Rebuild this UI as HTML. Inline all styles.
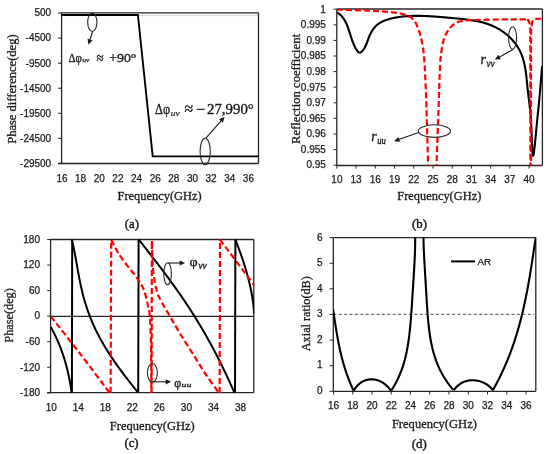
<!DOCTYPE html>
<html><head><meta charset="utf-8"><title>Figure</title>
<style>
html,body{margin:0;padding:0;background:#fff;}
body{width:550px;height:454px;overflow:hidden;}
svg{display:block;}
</style></head>
<body>
<svg width="550" height="454" viewBox="0 0 550 454">
<rect width="550" height="454" fill="#fff"/>
<line x1="61.60" y1="15.60" x2="258.50" y2="15.60" stroke="#c8c8c8" stroke-width="0.8" />
<line x1="61.60" y1="12.80" x2="258.50" y2="12.80" stroke="#262626" stroke-width="1.3" />
<line x1="258.50" y1="12.80" x2="258.50" y2="163.50" stroke="#262626" stroke-width="1.3" />
<line x1="61.60" y1="12.80" x2="61.60" y2="163.50" stroke="#262626" stroke-width="1.3" />
<line x1="58.20" y1="163.50" x2="258.50" y2="163.50" stroke="#262626" stroke-width="1.3" />
<line x1="58.20" y1="13.00" x2="61.60" y2="13.00" stroke="#262626" stroke-width="1.1" />
<text x="51.20" y="16.20" font-size="10" text-anchor="end" font-family="'Liberation Sans', Arial, sans-serif" fill="#1a1a1a" stroke="#1a1a1a" stroke-width="0.25">500</text>
<line x1="58.20" y1="38.08" x2="61.60" y2="38.08" stroke="#262626" stroke-width="1.1" />
<text x="51.20" y="41.35" font-size="10" text-anchor="end" font-family="'Liberation Sans', Arial, sans-serif" fill="#1a1a1a" stroke="#1a1a1a" stroke-width="0.25">-4500</text>
<line x1="58.20" y1="63.16" x2="61.60" y2="63.16" stroke="#262626" stroke-width="1.1" />
<text x="51.20" y="66.50" font-size="10" text-anchor="end" font-family="'Liberation Sans', Arial, sans-serif" fill="#1a1a1a" stroke="#1a1a1a" stroke-width="0.25">-9500</text>
<line x1="58.20" y1="88.24" x2="61.60" y2="88.24" stroke="#262626" stroke-width="1.1" />
<text x="51.20" y="91.65" font-size="10" text-anchor="end" font-family="'Liberation Sans', Arial, sans-serif" fill="#1a1a1a" stroke="#1a1a1a" stroke-width="0.25">-14500</text>
<line x1="58.20" y1="113.32" x2="61.60" y2="113.32" stroke="#262626" stroke-width="1.1" />
<text x="51.20" y="116.80" font-size="10" text-anchor="end" font-family="'Liberation Sans', Arial, sans-serif" fill="#1a1a1a" stroke="#1a1a1a" stroke-width="0.25">-19500</text>
<line x1="58.20" y1="138.40" x2="61.60" y2="138.40" stroke="#262626" stroke-width="1.1" />
<text x="51.20" y="141.95" font-size="10" text-anchor="end" font-family="'Liberation Sans', Arial, sans-serif" fill="#1a1a1a" stroke="#1a1a1a" stroke-width="0.25">-24500</text>
<line x1="58.20" y1="163.48" x2="61.60" y2="163.48" stroke="#262626" stroke-width="1.1" />
<text x="51.20" y="167.10" font-size="10" text-anchor="end" font-family="'Liberation Sans', Arial, sans-serif" fill="#1a1a1a" stroke="#1a1a1a" stroke-width="0.25">-29500</text>
<text x="62.00" y="181.90" font-size="10" text-anchor="middle" font-family="'Liberation Sans', Arial, sans-serif" fill="#1a1a1a" stroke="#1a1a1a" stroke-width="0.25">16</text>
<text x="80.64" y="181.90" font-size="10" text-anchor="middle" font-family="'Liberation Sans', Arial, sans-serif" fill="#1a1a1a" stroke="#1a1a1a" stroke-width="0.25">18</text>
<text x="99.28" y="181.90" font-size="10" text-anchor="middle" font-family="'Liberation Sans', Arial, sans-serif" fill="#1a1a1a" stroke="#1a1a1a" stroke-width="0.25">20</text>
<text x="117.92" y="181.90" font-size="10" text-anchor="middle" font-family="'Liberation Sans', Arial, sans-serif" fill="#1a1a1a" stroke="#1a1a1a" stroke-width="0.25">22</text>
<text x="136.56" y="181.90" font-size="10" text-anchor="middle" font-family="'Liberation Sans', Arial, sans-serif" fill="#1a1a1a" stroke="#1a1a1a" stroke-width="0.25">24</text>
<text x="155.20" y="181.90" font-size="10" text-anchor="middle" font-family="'Liberation Sans', Arial, sans-serif" fill="#1a1a1a" stroke="#1a1a1a" stroke-width="0.25">26</text>
<text x="173.84" y="181.90" font-size="10" text-anchor="middle" font-family="'Liberation Sans', Arial, sans-serif" fill="#1a1a1a" stroke="#1a1a1a" stroke-width="0.25">28</text>
<text x="192.48" y="181.90" font-size="10" text-anchor="middle" font-family="'Liberation Sans', Arial, sans-serif" fill="#1a1a1a" stroke="#1a1a1a" stroke-width="0.25">30</text>
<text x="211.12" y="181.90" font-size="10" text-anchor="middle" font-family="'Liberation Sans', Arial, sans-serif" fill="#1a1a1a" stroke="#1a1a1a" stroke-width="0.25">32</text>
<text x="229.76" y="181.90" font-size="10" text-anchor="middle" font-family="'Liberation Sans', Arial, sans-serif" fill="#1a1a1a" stroke="#1a1a1a" stroke-width="0.25">34</text>
<text x="248.40" y="181.90" font-size="10" text-anchor="middle" font-family="'Liberation Sans', Arial, sans-serif" fill="#1a1a1a" stroke="#1a1a1a" stroke-width="0.25">36</text>
<path d="M61.60,15.00 L137.90,15.00 L152.70,156.40 L258.50,156.40" fill="none" stroke="#000" stroke-width="1.9" stroke-linejoin="miter"/>
<ellipse cx="92.30" cy="22.30" rx="4.60" ry="9.20" fill="none" stroke="#2a2a2a" stroke-width="1.1"/>
<line x1="92.60" y1="31.40" x2="89.90" y2="40.03" stroke="#1a1a1a" stroke-width="1.1" />
<polygon points="88.40,44.80 87.56,38.77 92.53,40.33" fill="#1a1a1a"/>
<text x="68.5" y="62.3" font-size="12.5" font-family="'Liberation Serif', 'Times New Roman', serif" fill="#1a1a1a" textLength="13.4" lengthAdjust="spacingAndGlyphs" stroke="#1a1a1a" stroke-width="0.35">Δφ</text>
<text x="82.2" y="62.4" font-size="6.6" font-family="'Liberation Serif', 'Times New Roman', serif" fill="#1a1a1a" font-style="italic" textLength="7.4" lengthAdjust="spacingAndGlyphs" stroke="#1a1a1a" stroke-width="0.25">uv</text>
<text x="96.6" y="62.6" font-size="16" font-family="'Liberation Serif', 'Times New Roman', serif" fill="#1a1a1a" textLength="7.2" lengthAdjust="spacingAndGlyphs" stroke="#1a1a1a" stroke-width="0.35">≈</text>
<text x="109.2" y="62.3" font-size="15" font-family="'Liberation Serif', 'Times New Roman', serif" fill="#1a1a1a" textLength="7.6" lengthAdjust="spacingAndGlyphs" stroke="#1a1a1a" stroke-width="0.35">+</text>
<text x="117.0" y="62.3" font-size="12.5" font-family="'Liberation Serif', 'Times New Roman', serif" fill="#1a1a1a" textLength="19.4" lengthAdjust="spacingAndGlyphs" stroke="#1a1a1a" stroke-width="0.35">90°</text>
<ellipse cx="205.20" cy="151.40" rx="5.10" ry="13.20" fill="none" stroke="#2a2a2a" stroke-width="1.1"/>
<line x1="205.60" y1="138.30" x2="221.29" y2="120.55" stroke="#1a1a1a" stroke-width="1.1" />
<polygon points="224.60,116.80 222.91,122.64 219.01,119.20" fill="#1a1a1a"/>
<text x="155.0" y="113.6" font-size="14.6" font-family="'Liberation Serif', 'Times New Roman', serif" fill="#1a1a1a" textLength="15.0" lengthAdjust="spacingAndGlyphs" stroke="#1a1a1a" stroke-width="0.35">Δφ</text>
<text x="170.8" y="115.6" font-size="8.6" font-family="'Liberation Serif', 'Times New Roman', serif" fill="#1a1a1a" font-style="italic" textLength="9.0" lengthAdjust="spacingAndGlyphs" stroke="#1a1a1a" stroke-width="0.2">uv</text>
<text x="184.4" y="113.6" font-size="16.5" font-family="'Liberation Serif', 'Times New Roman', serif" fill="#1a1a1a" textLength="8.6" lengthAdjust="spacingAndGlyphs" stroke="#1a1a1a" stroke-width="0.35">≈</text>
<text x="196.0" y="113.6" font-size="14.6" font-family="'Liberation Serif', 'Times New Roman', serif" fill="#1a1a1a" textLength="9.0" lengthAdjust="spacingAndGlyphs" stroke="#1a1a1a" stroke-width="0.35">−</text>
<text x="207.0" y="113.6" font-size="14.6" font-family="'Liberation Serif', 'Times New Roman', serif" fill="#1a1a1a" textLength="46.8" lengthAdjust="spacingAndGlyphs" stroke="#1a1a1a" stroke-width="0.35">27,990°</text>
<text x="159.6" y="199.9" font-size="12.4" text-anchor="middle" font-family="'Liberation Serif', 'Times New Roman', serif" fill="#1a1a1a" stroke="#1a1a1a" stroke-width="0.3" textLength="84" lengthAdjust="spacingAndGlyphs">Frequency(GHz)</text>
<text transform="translate(15.6,89.1) rotate(-90)" x="0" y="0" font-size="12.5" text-anchor="middle" font-family="'Liberation Serif', 'Times New Roman', serif" fill="#1a1a1a" stroke="#1a1a1a" stroke-width="0.3" textLength="109.5" lengthAdjust="spacingAndGlyphs">Phase difference(deg)</text>
<text x="131.9" y="227.7" font-size="12.8" text-anchor="middle" font-family="'Liberation Serif', 'Times New Roman', serif" fill="#1a1a1a" stroke="#1a1a1a" stroke-width="0.45">(a)</text>
<line x1="336.80" y1="9.00" x2="542.40" y2="9.00" stroke="#262626" stroke-width="1.3" />
<line x1="542.40" y1="9.00" x2="542.40" y2="165.50" stroke="#262626" stroke-width="1.3" />
<line x1="336.80" y1="9.00" x2="336.80" y2="165.50" stroke="#262626" stroke-width="1.3" />
<line x1="336.80" y1="165.50" x2="542.40" y2="165.50" stroke="#262626" stroke-width="1.3" />
<line x1="333.60" y1="9.20" x2="336.80" y2="9.20" stroke="#262626" stroke-width="1.0" />
<text x="325.90" y="12.80" font-size="10" text-anchor="end" font-family="'Liberation Sans', Arial, sans-serif" fill="#1a1a1a" stroke="#1a1a1a" stroke-width="0.25">1</text>
<line x1="333.60" y1="24.80" x2="336.80" y2="24.80" stroke="#262626" stroke-width="1.0" />
<text x="325.90" y="28.35" font-size="10" text-anchor="end" font-family="'Liberation Sans', Arial, sans-serif" fill="#1a1a1a" stroke="#1a1a1a" stroke-width="0.25">0.995</text>
<line x1="333.60" y1="40.40" x2="336.80" y2="40.40" stroke="#262626" stroke-width="1.0" />
<text x="325.90" y="43.90" font-size="10" text-anchor="end" font-family="'Liberation Sans', Arial, sans-serif" fill="#1a1a1a" stroke="#1a1a1a" stroke-width="0.25">0.99</text>
<line x1="333.60" y1="56.00" x2="336.80" y2="56.00" stroke="#262626" stroke-width="1.0" />
<text x="325.90" y="59.45" font-size="10" text-anchor="end" font-family="'Liberation Sans', Arial, sans-serif" fill="#1a1a1a" stroke="#1a1a1a" stroke-width="0.25">0.985</text>
<line x1="333.60" y1="71.60" x2="336.80" y2="71.60" stroke="#262626" stroke-width="1.0" />
<text x="325.90" y="75.00" font-size="10" text-anchor="end" font-family="'Liberation Sans', Arial, sans-serif" fill="#1a1a1a" stroke="#1a1a1a" stroke-width="0.25">0.98</text>
<line x1="333.60" y1="87.20" x2="336.80" y2="87.20" stroke="#262626" stroke-width="1.0" />
<text x="325.90" y="90.55" font-size="10" text-anchor="end" font-family="'Liberation Sans', Arial, sans-serif" fill="#1a1a1a" stroke="#1a1a1a" stroke-width="0.25">0.975</text>
<line x1="333.60" y1="102.80" x2="336.80" y2="102.80" stroke="#262626" stroke-width="1.0" />
<text x="325.90" y="106.10" font-size="10" text-anchor="end" font-family="'Liberation Sans', Arial, sans-serif" fill="#1a1a1a" stroke="#1a1a1a" stroke-width="0.25">0.97</text>
<line x1="333.60" y1="118.40" x2="336.80" y2="118.40" stroke="#262626" stroke-width="1.0" />
<text x="325.90" y="121.65" font-size="10" text-anchor="end" font-family="'Liberation Sans', Arial, sans-serif" fill="#1a1a1a" stroke="#1a1a1a" stroke-width="0.25">0.965</text>
<line x1="333.60" y1="134.00" x2="336.80" y2="134.00" stroke="#262626" stroke-width="1.0" />
<text x="325.90" y="137.20" font-size="10" text-anchor="end" font-family="'Liberation Sans', Arial, sans-serif" fill="#1a1a1a" stroke="#1a1a1a" stroke-width="0.25">0.96</text>
<line x1="333.60" y1="149.60" x2="336.80" y2="149.60" stroke="#262626" stroke-width="1.0" />
<text x="325.90" y="152.75" font-size="10" text-anchor="end" font-family="'Liberation Sans', Arial, sans-serif" fill="#1a1a1a" stroke="#1a1a1a" stroke-width="0.25">0.955</text>
<line x1="333.60" y1="165.20" x2="336.80" y2="165.20" stroke="#262626" stroke-width="1.0" />
<text x="325.90" y="168.30" font-size="10" text-anchor="end" font-family="'Liberation Sans', Arial, sans-serif" fill="#1a1a1a" stroke="#1a1a1a" stroke-width="0.25">0.95</text>
<line x1="336.90" y1="165.50" x2="336.90" y2="168.60" stroke="#262626" stroke-width="1.0" />
<text x="336.90" y="182.60" font-size="10" text-anchor="middle" font-family="'Liberation Sans', Arial, sans-serif" fill="#1a1a1a" stroke="#1a1a1a" stroke-width="0.25">10</text>
<line x1="356.12" y1="165.50" x2="356.12" y2="168.60" stroke="#262626" stroke-width="1.0" />
<text x="356.12" y="182.60" font-size="10" text-anchor="middle" font-family="'Liberation Sans', Arial, sans-serif" fill="#1a1a1a" stroke="#1a1a1a" stroke-width="0.25">13</text>
<line x1="375.34" y1="165.50" x2="375.34" y2="168.60" stroke="#262626" stroke-width="1.0" />
<text x="375.34" y="182.60" font-size="10" text-anchor="middle" font-family="'Liberation Sans', Arial, sans-serif" fill="#1a1a1a" stroke="#1a1a1a" stroke-width="0.25">16</text>
<line x1="394.56" y1="165.50" x2="394.56" y2="168.60" stroke="#262626" stroke-width="1.0" />
<text x="394.56" y="182.60" font-size="10" text-anchor="middle" font-family="'Liberation Sans', Arial, sans-serif" fill="#1a1a1a" stroke="#1a1a1a" stroke-width="0.25">19</text>
<line x1="413.78" y1="165.50" x2="413.78" y2="168.60" stroke="#262626" stroke-width="1.0" />
<text x="413.78" y="182.60" font-size="10" text-anchor="middle" font-family="'Liberation Sans', Arial, sans-serif" fill="#1a1a1a" stroke="#1a1a1a" stroke-width="0.25">22</text>
<line x1="433.00" y1="165.50" x2="433.00" y2="168.60" stroke="#262626" stroke-width="1.0" />
<text x="433.00" y="182.60" font-size="10" text-anchor="middle" font-family="'Liberation Sans', Arial, sans-serif" fill="#1a1a1a" stroke="#1a1a1a" stroke-width="0.25">25</text>
<line x1="452.22" y1="165.50" x2="452.22" y2="168.60" stroke="#262626" stroke-width="1.0" />
<text x="452.22" y="182.60" font-size="10" text-anchor="middle" font-family="'Liberation Sans', Arial, sans-serif" fill="#1a1a1a" stroke="#1a1a1a" stroke-width="0.25">28</text>
<line x1="471.44" y1="165.50" x2="471.44" y2="168.60" stroke="#262626" stroke-width="1.0" />
<text x="471.44" y="182.60" font-size="10" text-anchor="middle" font-family="'Liberation Sans', Arial, sans-serif" fill="#1a1a1a" stroke="#1a1a1a" stroke-width="0.25">31</text>
<line x1="490.66" y1="165.50" x2="490.66" y2="168.60" stroke="#262626" stroke-width="1.0" />
<text x="490.66" y="182.60" font-size="10" text-anchor="middle" font-family="'Liberation Sans', Arial, sans-serif" fill="#1a1a1a" stroke="#1a1a1a" stroke-width="0.25">34</text>
<line x1="509.88" y1="165.50" x2="509.88" y2="168.60" stroke="#262626" stroke-width="1.0" />
<text x="509.88" y="182.60" font-size="10" text-anchor="middle" font-family="'Liberation Sans', Arial, sans-serif" fill="#1a1a1a" stroke="#1a1a1a" stroke-width="0.25">37</text>
<line x1="529.10" y1="165.50" x2="529.10" y2="168.60" stroke="#262626" stroke-width="1.0" />
<text x="529.10" y="182.60" font-size="10" text-anchor="middle" font-family="'Liberation Sans', Arial, sans-serif" fill="#1a1a1a" stroke="#1a1a1a" stroke-width="0.25">40</text>
<clipPath id="cb"><rect x="337" y="9" width="205.3" height="156.5"/></clipPath>
<path clip-path="url(#cb)" d="M337.00,12.40 L337.96,13.02 L338.87,13.67 L339.73,14.37 L340.54,15.10 L341.31,15.86 L342.03,16.65 L342.71,17.48 L343.35,18.33 L343.96,19.20 L344.53,20.11 L345.07,21.03 L345.58,21.97 L346.06,22.94 L346.51,23.92 L346.94,24.91 L347.36,25.92 L347.75,26.94 L348.13,27.97 L348.49,29.01 L348.84,30.06 L349.18,31.11 L349.52,32.16 L349.85,33.22 L350.18,34.27 L350.50,35.33 L350.83,36.38 L351.17,37.43 L351.51,38.48 L351.86,39.53 L352.23,40.57 L352.61,41.61 L353.00,42.64 L353.42,43.67 L353.86,44.69 L354.32,45.71 L354.81,46.72 L355.33,47.72 L355.88,48.71 L356.46,49.69 L357.08,50.63 L357.73,51.48 L358.42,52.14 L359.14,52.56 L359.88,52.67 L360.65,52.45 L361.42,51.96 L362.17,51.26 L362.90,50.42 L363.58,49.49 L364.20,48.53 L364.77,47.56 L365.29,46.57 L365.77,45.56 L366.21,44.54 L366.63,43.51 L367.03,42.47 L367.41,41.43 L367.78,40.38 L368.16,39.33 L368.54,38.29 L368.94,37.24 L369.36,36.21 L369.80,35.18 L370.27,34.16 L370.77,33.16 L371.31,32.18 L371.87,31.21 L372.46,30.27 L373.08,29.36 L373.74,28.47 L374.42,27.61 L375.14,26.79 L375.89,26.01 L376.67,25.27 L377.48,24.57 L378.33,23.92 L379.20,23.31 L380.11,22.75 L381.04,22.22 L382.00,21.73 L382.97,21.28 L383.97,20.86 L384.98,20.46 L386.00,20.09 L387.03,19.75 L388.08,19.43 L389.13,19.12 L390.18,18.84 L391.24,18.57 L392.30,18.31 L393.36,18.07 L394.43,17.84 L395.50,17.63 L396.57,17.43 L397.64,17.25 L398.72,17.08 L399.80,16.92 L400.88,16.77 L401.96,16.64 L403.05,16.52 L404.14,16.41 L405.22,16.31 L406.31,16.22 L407.40,16.15 L408.50,16.08 L409.59,16.02 L410.68,15.97 L411.77,15.93 L412.87,15.90 L413.96,15.88 L415.05,15.86 L416.15,15.86 L417.24,15.86 L418.33,15.86 L419.43,15.87 L420.52,15.89 L421.61,15.92 L422.69,15.95 L423.78,15.98 L424.87,16.02 L425.95,16.06 L427.03,16.11 L428.11,16.16 L429.19,16.22 L430.27,16.28 L431.35,16.34 L432.42,16.41 L433.50,16.47 L434.57,16.55 L435.64,16.62 L436.72,16.70 L437.79,16.78 L438.86,16.86 L439.93,16.95 L441.01,17.03 L442.08,17.12 L443.15,17.21 L444.22,17.31 L445.30,17.40 L446.37,17.50 L447.45,17.59 L448.52,17.69 L449.60,17.79 L450.68,17.89 L451.76,17.99 L452.84,18.10 L453.92,18.20 L455.01,18.30 L456.09,18.40 L457.18,18.51 L458.27,18.61 L459.36,18.72 L460.45,18.83 L461.54,18.95 L462.63,19.06 L463.72,19.18 L464.81,19.31 L465.90,19.44 L466.99,19.57 L468.08,19.71 L469.17,19.86 L470.25,20.02 L471.34,20.18 L472.42,20.35 L473.50,20.53 L474.57,20.72 L475.65,20.91 L476.72,21.12 L477.79,21.34 L478.85,21.56 L479.91,21.80 L480.97,22.05 L482.02,22.32 L483.07,22.59 L484.11,22.88 L485.15,23.19 L486.18,23.51 L487.21,23.84 L488.23,24.19 L489.25,24.55 L490.26,24.93 L491.26,25.33 L492.26,25.74 L493.25,26.18 L494.23,26.63 L495.21,27.10 L496.17,27.58 L497.13,28.09 L498.08,28.62 L499.03,29.16 L499.96,29.72 L500.88,30.30 L501.79,30.90 L502.69,31.51 L503.58,32.15 L504.46,32.79 L505.32,33.46 L506.17,34.14 L507.01,34.84 L507.84,35.55 L508.65,36.28 L509.44,37.02 L510.22,37.78 L510.99,38.55 L511.74,39.33 L512.47,40.14 L513.19,40.95 L513.89,41.78 L514.57,42.62 L515.23,43.47 L515.87,44.34 L516.49,45.22 L517.10,46.11 L517.68,47.01 L518.25,47.93 L518.79,48.85 L519.31,49.79 L519.81,50.74 L520.28,51.69 L520.74,52.66 L521.17,53.64 L521.57,54.63 L521.96,55.63 L522.32,56.63 L522.67,57.65 L523.00,58.67 L523.31,59.70 L523.60,60.74 L523.87,61.79 L524.13,62.84 L524.37,63.90 L524.60,64.96 L524.82,66.03 L525.02,67.11 L525.21,68.19 L525.39,69.27 L525.56,70.36 L525.72,71.45 L525.88,72.55 L526.02,73.65 L526.16,74.75 L526.29,75.85 L526.42,76.96 L526.54,78.06 L526.65,79.17 L526.77,80.28 L526.88,81.39 L526.99,82.50 L527.10,83.61 L527.21,84.72 L527.32,85.82 L527.43,86.93 L527.55,88.03 L527.67,89.14 L527.79,90.24 L527.92,91.33 L528.04,92.43 L528.17,93.51 L528.30,94.60 L528.44,95.68 L528.57,96.76 L528.70,97.83 L528.83,98.89 L528.96,99.95 L529.09,101.01 L529.22,102.06 L529.35,103.10 L529.48,104.13 L529.60,105.15 L529.72,106.17 L529.83,107.18 L529.94,108.18 L530.05,109.17 L530.15,110.15 L530.25,111.13 L530.34,112.11 L530.43,113.08 L530.52,114.06 L530.60,115.05 L530.68,116.04 L530.76,117.04 L530.83,118.05 L530.90,119.08 L530.97,120.12 L531.04,121.18 L531.10,122.27 L531.16,123.38 L531.23,124.51 L531.28,125.67 L531.34,126.87 L531.40,128.10 L531.45,129.36 L531.51,130.66 L531.56,132.00 L531.62,133.39 L531.67,134.81 L531.72,136.26 L531.78,137.73 L531.83,139.21 L531.89,140.69 L531.95,142.15 L532.00,143.59 L532.07,145.00 L532.13,146.37 L532.19,147.68 L532.26,148.94 L532.33,150.12 L532.40,151.21 L532.48,152.22 L532.55,153.12 L532.64,153.90 L532.72,154.57 L532.82,155.10 L532.91,155.49 L533.01,155.72 L533.12,155.79 L533.23,155.69 L533.34,155.43 L533.47,155.02 L533.59,154.47 L533.72,153.78 L533.85,152.98 L533.98,152.06 L534.12,151.04 L534.26,149.94 L534.40,148.75 L534.54,147.49 L534.68,146.16 L534.83,144.79 L534.97,143.38 L535.11,141.93 L535.26,140.46 L535.40,138.98 L535.54,137.50 L535.68,136.03 L535.81,134.58 L535.95,133.16 L536.08,131.77 L536.21,130.43 L536.33,129.12 L536.45,127.85 L536.57,126.62 L536.69,125.42 L536.80,124.26 L536.92,123.12 L537.03,122.01 L537.13,120.92 L537.24,119.86 L537.34,118.82 L537.45,117.80 L537.55,116.79 L537.65,115.80 L537.75,114.83 L537.85,113.86 L537.94,112.91 L538.04,111.96 L538.14,111.02 L538.23,110.08 L538.33,109.14 L538.42,108.20 L538.51,107.26 L538.61,106.31 L538.70,105.36 L538.80,104.39 L538.89,103.42 L538.99,102.44 L539.08,101.43 L539.18,100.42 L539.28,99.38 L539.38,98.32 L539.48,97.24 L539.58,96.14 L539.68,95.01 L539.79,93.85 L539.89,92.65 L540.00,91.43 L540.11,90.17 L540.22,88.87 L540.34,87.54 L540.46,86.17 L540.57,84.77 L540.69,83.35 L540.81,81.93 L540.93,80.51 L541.05,79.10 L541.17,77.71 L541.28,76.35 L541.39,75.03 L541.50,73.76 L541.61,72.56 L541.71,71.42 L541.81,70.36 L541.90,69.39 L541.98,68.52 L542.06,67.76 L542.13,67.12 L542.20,66.61 L542.25,66.23 L542.30,66.00" fill="none" stroke="#000" stroke-width="2.1" stroke-linejoin="round"/>
<path clip-path="url(#cb)" d="M337.00,9.60 C342.12,9.77 358.48,10.15 367.70,10.60 C376.92,11.05 386.02,11.60 392.30,12.30 C398.58,13.00 401.85,13.57 405.40,14.80 C408.95,16.03 411.42,17.25 413.60,19.70 C415.78,22.15 417.15,25.95 418.50,29.50 C419.85,33.05 420.75,36.08 421.70,41.00 C422.65,45.92 423.45,49.17 424.20,59.00 C424.95,68.83 425.53,81.50 426.20,100.00 C426.87,118.50 427.87,158.33 428.20,170.00" fill="none" stroke="#ff0000" stroke-width="2.2" stroke-dasharray="6 3"/>
<path clip-path="url(#cb)" d="M436.30,170.00 C436.67,160.00 437.87,127.50 438.50,110.00 C439.13,92.50 439.50,75.45 440.10,65.00 C440.70,54.55 441.33,52.02 442.10,47.30 C442.87,42.58 443.48,39.78 444.70,36.70 C445.92,33.62 447.52,31.12 449.40,28.80 C451.28,26.48 453.37,24.17 456.00,22.80 C458.63,21.43 462.03,21.07 465.20,20.60 C468.37,20.13 469.20,20.18 475.00,20.00 C480.80,19.82 492.50,19.62 500.00,19.50 C507.50,19.38 515.50,19.30 520.00,19.30 C524.50,19.30 525.83,19.47 527.00,19.50" fill="none" stroke="#ff0000" stroke-width="2.2" stroke-dasharray="6 3"/>
<path clip-path="url(#cb)" d="M527.00,19.50 C527.27,19.68 528.12,19.52 528.60,20.60 C529.08,21.68 529.62,21.93 529.90,26.00 C530.18,30.07 530.22,21.00 530.30,45.00 C530.38,69.00 530.38,149.17 530.40,170.00" fill="none" stroke="#ff0000" stroke-width="2.2" stroke-dasharray="6 3"/>
<path clip-path="url(#cb)" d="M531.00,170.00 C531.02,149.17 531.00,69.00 531.10,45.00 C531.20,21.00 531.30,30.13 531.60,26.00 C531.90,21.87 532.33,21.37 532.90,20.20 C533.47,19.03 533.43,19.25 535.00,19.00 C536.57,18.75 541.08,18.75 542.30,18.70" fill="none" stroke="#ff0000" stroke-width="2.2" stroke-dasharray="6 3"/>
<ellipse cx="512.60" cy="38.00" rx="4.00" ry="11.20" fill="none" stroke="#2a2a2a" stroke-width="1.1"/>
<line x1="513.00" y1="49.50" x2="499.17" y2="57.17" stroke="#1a1a1a" stroke-width="1.1" />
<polygon points="494.80,59.60 498.35,54.66 500.87,59.20" fill="#1a1a1a"/>
<text x="480.6" y="63.8" font-size="14" font-family="'Liberation Serif', 'Times New Roman', serif" fill="#1a1a1a" font-style="italic" stroke="#1a1a1a" stroke-width="0.35">r</text>
<text x="486.4" y="66.7" font-size="10.4" font-family="'Liberation Serif', 'Times New Roman', serif" fill="#1a1a1a" font-style="italic" textLength="8.3" lengthAdjust="spacingAndGlyphs" stroke="#1a1a1a" stroke-width="0.35">vv</text>
<ellipse cx="434.40" cy="131.10" rx="16.10" ry="6.30" fill="none" stroke="#2a2a2a" stroke-width="1.1"/>
<line x1="418.60" y1="132.40" x2="398.71" y2="139.52" stroke="#1a1a1a" stroke-width="1.1" />
<polygon points="394.00,141.20 398.30,136.90 400.05,141.80" fill="#1a1a1a"/>
<text x="371.2" y="140.7" font-size="14" font-family="'Liberation Serif', 'Times New Roman', serif" fill="#1a1a1a" font-style="italic" stroke="#1a1a1a" stroke-width="0.35">r</text>
<text x="377.2" y="143.6" font-size="9.4" font-family="'Liberation Serif', 'Times New Roman', serif" fill="#1a1a1a" font-style="italic" textLength="8.6" lengthAdjust="spacingAndGlyphs" stroke="#1a1a1a" stroke-width="0.35">uu</text>
<text x="439.3" y="199.9" font-size="12.4" text-anchor="middle" font-family="'Liberation Serif', 'Times New Roman', serif" fill="#1a1a1a" stroke="#1a1a1a" stroke-width="0.3" textLength="84" lengthAdjust="spacingAndGlyphs">Frequency(GHz)</text>
<text transform="translate(300.2,89) rotate(-90)" x="0" y="0" font-size="12.6" text-anchor="middle" font-family="'Liberation Serif', 'Times New Roman', serif" fill="#1a1a1a" stroke="#1a1a1a" stroke-width="0.3" textLength="110" lengthAdjust="spacingAndGlyphs">Reflection coefficient</text>
<text x="419.5" y="227.9" font-size="12.8" text-anchor="middle" font-family="'Liberation Serif', 'Times New Roman', serif" fill="#1a1a1a" stroke="#1a1a1a" stroke-width="0.45">(b)</text>
<line x1="50.60" y1="239.50" x2="253.80" y2="239.50" stroke="#262626" stroke-width="1.3" />
<line x1="253.80" y1="239.50" x2="253.80" y2="392.70" stroke="#262626" stroke-width="1.3" />
<line x1="50.60" y1="239.50" x2="50.60" y2="392.70" stroke="#262626" stroke-width="1.3" />
<line x1="47.00" y1="392.70" x2="253.80" y2="392.70" stroke="#262626" stroke-width="1.3" />
<line x1="50.60" y1="316.40" x2="253.80" y2="316.40" stroke="#262626" stroke-width="1.3" />
<line x1="47.20" y1="239.50" x2="50.60" y2="239.50" stroke="#262626" stroke-width="1.0" />
<text x="40.00" y="242.60" font-size="10" text-anchor="end" font-family="'Liberation Sans', Arial, sans-serif" fill="#1a1a1a" stroke="#1a1a1a" stroke-width="0.25">180</text>
<line x1="47.20" y1="265.05" x2="50.60" y2="265.05" stroke="#262626" stroke-width="1.0" />
<text x="40.00" y="268.20" font-size="10" text-anchor="end" font-family="'Liberation Sans', Arial, sans-serif" fill="#1a1a1a" stroke="#1a1a1a" stroke-width="0.25">120</text>
<line x1="47.20" y1="290.60" x2="50.60" y2="290.60" stroke="#262626" stroke-width="1.0" />
<text x="40.00" y="293.80" font-size="10" text-anchor="end" font-family="'Liberation Sans', Arial, sans-serif" fill="#1a1a1a" stroke="#1a1a1a" stroke-width="0.25">60</text>
<line x1="47.20" y1="316.15" x2="50.60" y2="316.15" stroke="#262626" stroke-width="1.0" />
<text x="40.00" y="319.40" font-size="10" text-anchor="end" font-family="'Liberation Sans', Arial, sans-serif" fill="#1a1a1a" stroke="#1a1a1a" stroke-width="0.25">0</text>
<line x1="47.20" y1="341.70" x2="50.60" y2="341.70" stroke="#262626" stroke-width="1.0" />
<text x="40.00" y="345.00" font-size="10" text-anchor="end" font-family="'Liberation Sans', Arial, sans-serif" fill="#1a1a1a" stroke="#1a1a1a" stroke-width="0.25">-60</text>
<line x1="47.20" y1="367.25" x2="50.60" y2="367.25" stroke="#262626" stroke-width="1.0" />
<text x="40.00" y="370.60" font-size="10" text-anchor="end" font-family="'Liberation Sans', Arial, sans-serif" fill="#1a1a1a" stroke="#1a1a1a" stroke-width="0.25">-120</text>
<line x1="47.20" y1="392.80" x2="50.60" y2="392.80" stroke="#262626" stroke-width="1.0" />
<text x="40.00" y="396.20" font-size="10" text-anchor="end" font-family="'Liberation Sans', Arial, sans-serif" fill="#1a1a1a" stroke="#1a1a1a" stroke-width="0.25">-180</text>
<text x="51.20" y="411.10" font-size="10" text-anchor="middle" font-family="'Liberation Sans', Arial, sans-serif" fill="#1a1a1a" stroke="#1a1a1a" stroke-width="0.25">10</text>
<text x="78.24" y="411.10" font-size="10" text-anchor="middle" font-family="'Liberation Sans', Arial, sans-serif" fill="#1a1a1a" stroke="#1a1a1a" stroke-width="0.25">14</text>
<text x="105.28" y="411.10" font-size="10" text-anchor="middle" font-family="'Liberation Sans', Arial, sans-serif" fill="#1a1a1a" stroke="#1a1a1a" stroke-width="0.25">18</text>
<text x="132.32" y="411.10" font-size="10" text-anchor="middle" font-family="'Liberation Sans', Arial, sans-serif" fill="#1a1a1a" stroke="#1a1a1a" stroke-width="0.25">22</text>
<text x="159.36" y="411.10" font-size="10" text-anchor="middle" font-family="'Liberation Sans', Arial, sans-serif" fill="#1a1a1a" stroke="#1a1a1a" stroke-width="0.25">26</text>
<text x="186.40" y="411.10" font-size="10" text-anchor="middle" font-family="'Liberation Sans', Arial, sans-serif" fill="#1a1a1a" stroke="#1a1a1a" stroke-width="0.25">30</text>
<text x="213.44" y="411.10" font-size="10" text-anchor="middle" font-family="'Liberation Sans', Arial, sans-serif" fill="#1a1a1a" stroke="#1a1a1a" stroke-width="0.25">34</text>
<text x="240.48" y="411.10" font-size="10" text-anchor="middle" font-family="'Liberation Sans', Arial, sans-serif" fill="#1a1a1a" stroke="#1a1a1a" stroke-width="0.25">38</text>
<clipPath id="cc"><rect x="50.8" y="239" width="203.4" height="154"/></clipPath>
<path clip-path="url(#cc)" d="M50.72,326.90 L51.34,328.02 L51.94,329.14 L52.54,330.26 L53.12,331.38 L53.70,332.50 L54.26,333.62 L54.81,334.74 L55.35,335.86 L55.89,336.98 L56.41,338.10 L56.92,339.22 L57.42,340.34 L57.91,341.46 L58.39,342.58 L58.86,343.71 L59.32,344.83 L59.77,345.95 L60.21,347.07 L60.65,348.19 L61.07,349.31 L61.49,350.43 L61.89,351.55 L62.29,352.67 L62.68,353.79 L63.06,354.91 L63.43,356.03 L63.79,357.15 L64.15,358.27 L64.49,359.39 L64.83,360.51 L65.16,361.63 L65.49,362.75 L65.80,363.87 L66.11,364.99 L66.41,366.11 L66.70,367.23 L66.99,368.35 L67.27,369.47 L67.54,370.59 L67.81,371.71 L68.06,372.83 L68.32,373.95 L68.56,375.07 L68.80,376.19 L69.03,377.32 L69.26,378.44 L69.48,379.56 L69.70,380.68 L69.90,381.80 L70.11,382.92 L70.31,384.04 L70.50,385.16 L70.69,386.28 L70.87,387.40 L71.04,388.52 L71.22,389.64 L71.38,390.76 L71.55,391.88 L71.70,393.00" fill="none" stroke="#000" stroke-width="2.0" stroke-linejoin="round"/>
<path clip-path="url(#cc)" d="M71.71,239.50 L72.36,242.10 L72.97,244.70 L73.55,247.31 L74.09,249.91 L74.61,252.51 L75.11,255.11 L75.59,257.71 L76.06,260.31 L76.52,262.92 L76.98,265.52 L77.44,268.12 L77.90,270.72 L78.38,273.32 L78.86,275.92 L79.35,278.53 L79.87,281.13 L80.40,283.73 L80.96,286.33 L81.55,288.93 L82.16,291.53 L82.80,294.14 L83.48,296.74 L84.19,299.34 L84.94,301.94 L85.73,304.54 L86.56,307.14 L87.44,309.75 L88.35,312.35 L89.31,314.95 L90.32,317.55 L91.37,320.15 L92.47,322.75 L93.62,325.36 L94.81,327.96 L96.06,330.56 L97.35,333.16 L98.69,335.76 L100.08,338.36 L101.52,340.97 L103.00,343.57 L104.53,346.17 L106.11,348.77 L107.73,351.37 L109.40,353.97 L111.10,356.58 L112.85,359.18 L114.64,361.78 L116.46,364.38 L118.32,366.98 L120.22,369.58 L122.14,372.19 L124.10,374.79 L126.08,377.39 L128.08,379.99 L130.11,382.59 L132.15,385.19 L134.21,387.80 L136.28,390.40 L138.36,393.00" fill="none" stroke="#000" stroke-width="2.0" stroke-linejoin="round"/>
<path clip-path="url(#cc)" d="M138.60,239.26 L140.23,241.36 L141.85,243.45 L143.48,245.54 L145.11,247.63 L146.74,249.72 L148.36,251.81 L149.99,253.91 L151.62,256.01 L153.24,258.11 L154.87,260.22 L156.50,262.34 L158.13,264.46 L159.75,266.59 L161.38,268.73 L163.01,270.89 L164.63,273.06 L166.26,275.23 L167.89,277.43 L169.52,279.64 L171.14,281.87 L172.77,284.11 L174.40,286.37 L176.02,288.65 L177.65,290.96 L179.28,293.28 L180.91,295.63 L182.53,298.01 L184.16,300.40 L185.79,302.83 L187.41,305.28 L189.04,307.76 L190.67,310.27 L192.29,312.81 L193.92,315.38 L195.55,317.99 L197.18,320.63 L198.80,323.30 L200.43,326.01 L202.06,328.76 L203.68,331.54 L205.31,334.37 L206.94,337.23 L208.57,340.14 L210.19,343.09 L211.82,346.08 L213.45,349.12 L215.07,352.20 L216.70,355.33 L218.33,358.51 L219.96,361.74 L221.58,365.01 L223.21,368.34 L224.84,371.72 L226.46,375.15 L228.09,378.64 L229.72,382.19 L231.35,385.79 L232.97,389.44 L234.60,393.16" fill="none" stroke="#000" stroke-width="2.0" stroke-linejoin="round"/>
<path clip-path="url(#cc)" d="M235.36,239.60 L235.85,240.85 L236.34,242.11 L236.82,243.36 L237.30,244.62 L237.77,245.87 L238.24,247.13 L238.71,248.38 L239.17,249.63 L239.63,250.89 L240.08,252.14 L240.53,253.40 L240.97,254.65 L241.41,255.91 L241.85,257.16 L242.27,258.41 L242.70,259.67 L243.11,260.92 L243.52,262.18 L243.93,263.43 L244.33,264.68 L244.72,265.94 L245.11,267.19 L245.49,268.45 L245.87,269.70 L246.24,270.96 L246.60,272.21 L246.96,273.46 L247.31,274.72 L247.65,275.97 L247.98,277.23 L248.31,278.48 L248.63,279.74 L248.95,280.99 L249.25,282.24 L249.55,283.50 L249.84,284.75 L250.13,286.01 L250.40,287.26 L250.67,288.52 L250.93,289.77 L251.18,291.02 L251.42,292.28 L251.66,293.53 L251.88,294.79 L252.10,296.04 L252.31,297.29 L252.51,298.55 L252.70,299.80 L252.88,301.06 L253.05,302.31 L253.21,303.57 L253.37,304.82 L253.51,306.07 L253.64,307.33 L253.77,308.58 L253.88,309.84 L253.98,311.09 L254.08,312.35 L254.16,313.60" fill="none" stroke="#000" stroke-width="2.0" stroke-linejoin="round"/>
<line x1="71.90" y1="392.70" x2="72.20" y2="239.50" stroke="#000" stroke-width="2.0" />
<line x1="138.20" y1="392.70" x2="138.60" y2="239.50" stroke="#000" stroke-width="2.0" />
<line x1="235.00" y1="392.70" x2="235.40" y2="239.50" stroke="#000" stroke-width="2.0" />
<path clip-path="url(#cc)" d="M50.80,316.40 C55.67,322.60 70.20,340.87 80.00,353.60 C89.80,366.33 104.67,386.27 109.60,392.80" fill="none" stroke="#ff0000" stroke-width="2.2" stroke-dasharray="6 3"/>
<path clip-path="url(#cc)" d="M110.60,392.80 L111.20,239.80" fill="none" stroke="#ff0000" stroke-width="2.2" stroke-dasharray="6 3"/>
<path clip-path="url(#cc)" d="M111.20,239.80 C112.35,241.97 115.38,248.45 118.10,252.80 C120.82,257.15 124.23,261.53 127.50,265.90 C130.77,270.27 134.90,274.80 137.70,279.00 C140.50,283.20 142.58,286.58 144.30,291.10 C146.02,295.62 147.07,301.73 148.00,306.10 C148.93,310.47 149.40,310.82 149.90,317.30 C150.40,323.78 150.75,332.38 151.00,345.00 C151.25,357.62 151.33,385.00 151.40,393.00" fill="none" stroke="#ff0000" stroke-width="2.2" stroke-dasharray="6 3"/>
<path clip-path="url(#cc)" d="M151.60,393.00 L151.90,241.00" fill="none" stroke="#ff0000" stroke-width="2.2" stroke-dasharray="6 3"/>
<path clip-path="url(#cc)" d="M151.90,241.00 C152.00,243.83 152.28,253.00 152.50,258.00 C152.72,263.00 152.78,266.83 153.20,271.00 C153.62,275.17 154.33,279.48 155.00,283.00 C155.67,286.52 156.37,289.43 157.20,292.10 C158.03,294.77 157.87,294.93 160.00,299.00 C162.13,303.07 166.67,310.75 170.00,316.50 C173.33,322.25 176.23,327.35 180.00,333.50 C183.77,339.65 188.42,346.77 192.60,353.40 C196.78,360.03 200.70,366.70 205.10,373.30 C209.50,379.90 216.68,389.72 219.00,393.00" fill="none" stroke="#ff0000" stroke-width="2.2" stroke-dasharray="6 3"/>
<path clip-path="url(#cc)" d="M219.60,393.00 L220.00,239.60" fill="none" stroke="#ff0000" stroke-width="2.2" stroke-dasharray="6 3"/>
<path clip-path="url(#cc)" d="M220.00,239.60 C225.60,247.08 247.77,276.70 253.60,284.50 C259.43,292.30 254.77,286.08 255.00,286.40" fill="none" stroke="#ff0000" stroke-width="2.2" stroke-dasharray="6 3"/>
<ellipse cx="167.60" cy="273.70" rx="3.80" ry="11.00" fill="none" stroke="#2a2a2a" stroke-width="1.1"/>
<line x1="168.50" y1="263.00" x2="180.20" y2="263.00" stroke="#1a1a1a" stroke-width="1.1" />
<polygon points="185.20,263.00 179.70,265.60 179.70,260.40" fill="#1a1a1a"/>
<text x="189.6" y="266.0" font-size="13.2" font-family="'Liberation Serif', 'Times New Roman', serif" fill="#1a1a1a" textLength="8.2" lengthAdjust="spacingAndGlyphs" stroke="#1a1a1a" stroke-width="0.35">φ</text>
<text x="198.4" y="268.6" font-size="9.6" font-family="'Liberation Serif', 'Times New Roman', serif" fill="#1a1a1a" font-style="italic" textLength="8.4" lengthAdjust="spacingAndGlyphs" stroke="#1a1a1a" stroke-width="0.35">vv</text>
<ellipse cx="152.40" cy="372.80" rx="5.00" ry="9.30" fill="none" stroke="#2a2a2a" stroke-width="1.1"/>
<line x1="153.40" y1="381.80" x2="166.20" y2="381.80" stroke="#1a1a1a" stroke-width="1.1" />
<polygon points="171.20,381.80 165.70,384.40 165.70,379.20" fill="#1a1a1a"/>
<text x="174.2" y="386.6" font-size="11.5" font-family="'Liberation Serif', 'Times New Roman', serif" fill="#1a1a1a" textLength="7.0" lengthAdjust="spacingAndGlyphs" stroke="#1a1a1a" stroke-width="0.35">φ</text>
<text x="181.6" y="386.8" font-size="6.4" font-family="'Liberation Serif', 'Times New Roman', serif" fill="#1a1a1a" font-style="italic" textLength="9.6" lengthAdjust="spacingAndGlyphs" stroke="#1a1a1a" stroke-width="0.3">uu</text>
<text x="152.3" y="429.5" font-size="12.4" text-anchor="middle" font-family="'Liberation Serif', 'Times New Roman', serif" fill="#1a1a1a" stroke="#1a1a1a" stroke-width="0.3" textLength="85" lengthAdjust="spacingAndGlyphs">Frequency(GHz)</text>
<text transform="translate(13.2,315.4) rotate(-90)" x="0" y="0" font-size="12.2" text-anchor="middle" font-family="'Liberation Serif', 'Times New Roman', serif" fill="#1a1a1a" stroke="#1a1a1a" stroke-width="0.3" textLength="54.5" lengthAdjust="spacingAndGlyphs">Phase(deg)</text>
<text x="131.5" y="447.3" font-size="12.8" text-anchor="middle" font-family="'Liberation Serif', 'Times New Roman', serif" fill="#1a1a1a" stroke="#1a1a1a" stroke-width="0.45">(c)</text>
<line x1="333.30" y1="237.60" x2="535.80" y2="237.60" stroke="#262626" stroke-width="1.3" />
<line x1="535.80" y1="237.60" x2="535.80" y2="391.30" stroke="#262626" stroke-width="1.3" />
<line x1="333.30" y1="237.60" x2="333.30" y2="391.30" stroke="#262626" stroke-width="1.3" />
<line x1="333.30" y1="391.30" x2="535.80" y2="391.30" stroke="#262626" stroke-width="1.3" />
<line x1="329.60" y1="237.60" x2="333.30" y2="237.60" stroke="#262626" stroke-width="1.0" />
<text x="322.50" y="240.80" font-size="10" text-anchor="end" font-family="'Liberation Sans', Arial, sans-serif" fill="#1a1a1a" stroke="#1a1a1a" stroke-width="0.25">6</text>
<line x1="329.60" y1="263.22" x2="333.30" y2="263.22" stroke="#262626" stroke-width="1.0" />
<text x="322.50" y="266.30" font-size="10" text-anchor="end" font-family="'Liberation Sans', Arial, sans-serif" fill="#1a1a1a" stroke="#1a1a1a" stroke-width="0.25">5</text>
<line x1="329.60" y1="288.84" x2="333.30" y2="288.84" stroke="#262626" stroke-width="1.0" />
<text x="322.50" y="291.80" font-size="10" text-anchor="end" font-family="'Liberation Sans', Arial, sans-serif" fill="#1a1a1a" stroke="#1a1a1a" stroke-width="0.25">4</text>
<line x1="329.60" y1="314.46" x2="333.30" y2="314.46" stroke="#262626" stroke-width="1.0" />
<text x="322.50" y="317.30" font-size="10" text-anchor="end" font-family="'Liberation Sans', Arial, sans-serif" fill="#1a1a1a" stroke="#1a1a1a" stroke-width="0.25">3</text>
<line x1="329.60" y1="340.08" x2="333.30" y2="340.08" stroke="#262626" stroke-width="1.0" />
<text x="322.50" y="342.80" font-size="10" text-anchor="end" font-family="'Liberation Sans', Arial, sans-serif" fill="#1a1a1a" stroke="#1a1a1a" stroke-width="0.25">2</text>
<line x1="329.60" y1="365.70" x2="333.30" y2="365.70" stroke="#262626" stroke-width="1.0" />
<text x="322.50" y="368.30" font-size="10" text-anchor="end" font-family="'Liberation Sans', Arial, sans-serif" fill="#1a1a1a" stroke="#1a1a1a" stroke-width="0.25">1</text>
<line x1="329.60" y1="391.32" x2="333.30" y2="391.32" stroke="#262626" stroke-width="1.0" />
<text x="322.50" y="393.80" font-size="10" text-anchor="end" font-family="'Liberation Sans', Arial, sans-serif" fill="#1a1a1a" stroke="#1a1a1a" stroke-width="0.25">0</text>
<line x1="333.50" y1="391.30" x2="333.50" y2="394.40" stroke="#262626" stroke-width="1.0" />
<text x="333.50" y="409.00" font-size="10" text-anchor="middle" font-family="'Liberation Sans', Arial, sans-serif" fill="#1a1a1a" stroke="#1a1a1a" stroke-width="0.25">16</text>
<line x1="352.75" y1="391.30" x2="352.75" y2="394.40" stroke="#262626" stroke-width="1.0" />
<text x="352.75" y="409.00" font-size="10" text-anchor="middle" font-family="'Liberation Sans', Arial, sans-serif" fill="#1a1a1a" stroke="#1a1a1a" stroke-width="0.25">18</text>
<line x1="372.00" y1="391.30" x2="372.00" y2="394.40" stroke="#262626" stroke-width="1.0" />
<text x="372.00" y="409.00" font-size="10" text-anchor="middle" font-family="'Liberation Sans', Arial, sans-serif" fill="#1a1a1a" stroke="#1a1a1a" stroke-width="0.25">20</text>
<line x1="391.25" y1="391.30" x2="391.25" y2="394.40" stroke="#262626" stroke-width="1.0" />
<text x="391.25" y="409.00" font-size="10" text-anchor="middle" font-family="'Liberation Sans', Arial, sans-serif" fill="#1a1a1a" stroke="#1a1a1a" stroke-width="0.25">22</text>
<line x1="410.50" y1="391.30" x2="410.50" y2="394.40" stroke="#262626" stroke-width="1.0" />
<text x="410.50" y="409.00" font-size="10" text-anchor="middle" font-family="'Liberation Sans', Arial, sans-serif" fill="#1a1a1a" stroke="#1a1a1a" stroke-width="0.25">24</text>
<line x1="429.75" y1="391.30" x2="429.75" y2="394.40" stroke="#262626" stroke-width="1.0" />
<text x="429.75" y="409.00" font-size="10" text-anchor="middle" font-family="'Liberation Sans', Arial, sans-serif" fill="#1a1a1a" stroke="#1a1a1a" stroke-width="0.25">26</text>
<line x1="449.00" y1="391.30" x2="449.00" y2="394.40" stroke="#262626" stroke-width="1.0" />
<text x="449.00" y="409.00" font-size="10" text-anchor="middle" font-family="'Liberation Sans', Arial, sans-serif" fill="#1a1a1a" stroke="#1a1a1a" stroke-width="0.25">28</text>
<line x1="468.25" y1="391.30" x2="468.25" y2="394.40" stroke="#262626" stroke-width="1.0" />
<text x="468.25" y="409.00" font-size="10" text-anchor="middle" font-family="'Liberation Sans', Arial, sans-serif" fill="#1a1a1a" stroke="#1a1a1a" stroke-width="0.25">30</text>
<line x1="487.50" y1="391.30" x2="487.50" y2="394.40" stroke="#262626" stroke-width="1.0" />
<text x="487.50" y="409.00" font-size="10" text-anchor="middle" font-family="'Liberation Sans', Arial, sans-serif" fill="#1a1a1a" stroke="#1a1a1a" stroke-width="0.25">32</text>
<line x1="506.75" y1="391.30" x2="506.75" y2="394.40" stroke="#262626" stroke-width="1.0" />
<text x="506.75" y="409.00" font-size="10" text-anchor="middle" font-family="'Liberation Sans', Arial, sans-serif" fill="#1a1a1a" stroke="#1a1a1a" stroke-width="0.25">34</text>
<line x1="526.00" y1="391.30" x2="526.00" y2="394.40" stroke="#262626" stroke-width="1.0" />
<text x="526.00" y="409.00" font-size="10" text-anchor="middle" font-family="'Liberation Sans', Arial, sans-serif" fill="#1a1a1a" stroke="#1a1a1a" stroke-width="0.25">36</text>
<line x1="333.30" y1="314.30" x2="534.00" y2="314.30" stroke="#333" stroke-width="0.9" stroke-dasharray="3 2.4"/>
<clipPath id="cd"><rect x="333.2" y="237.7" width="202.8" height="153.5"/></clipPath>
<path clip-path="url(#cd)" d="M333.14,309.40 L333.34,310.78 L333.54,312.15 L333.74,313.53 L333.95,314.91 L334.15,316.28 L334.35,317.66 L334.55,319.03 L334.76,320.41 L334.97,321.79 L335.17,323.16 L335.38,324.54 L335.60,325.92 L335.81,327.29 L336.03,328.67 L336.26,330.04 L336.48,331.42 L336.71,332.80 L336.95,334.17 L337.19,335.55 L337.43,336.93 L337.68,338.30 L337.93,339.68 L338.19,341.05 L338.46,342.43 L338.73,343.81 L339.01,345.18 L339.29,346.56 L339.58,347.94 L339.88,349.31 L340.19,350.69 L340.50,352.06 L340.82,353.44 L341.15,354.82 L341.49,356.19 L341.84,357.57 L342.19,358.95 L342.56,360.32 L342.93,361.70 L343.32,363.07 L343.72,364.45 L344.12,365.83 L344.54,367.20 L344.97,368.58 L345.41,369.96 L345.86,371.33 L346.32,372.71 L346.80,374.08 L347.28,375.46 L347.78,376.84 L348.30,378.21 L348.82,379.59 L349.36,380.97 L349.92,382.34 L350.48,383.72 L351.07,385.09 L351.66,386.47 L352.27,387.85 L352.90,389.22 L353.54,390.60" fill="none" stroke="#000" stroke-width="2.1" stroke-linejoin="round"/>
<path clip-path="url(#cd)" d="M353.60,390.62 L354.23,389.65 L354.86,388.73 L355.49,387.87 L356.12,387.07 L356.75,386.32 L357.38,385.62 L358.01,384.97 L358.64,384.37 L359.27,383.81 L359.91,383.29 L360.54,382.82 L361.17,382.38 L361.80,381.97 L362.43,381.61 L363.06,381.27 L363.69,380.97 L364.32,380.69 L364.95,380.45 L365.58,380.23 L366.21,380.04 L366.84,379.87 L367.47,379.73 L368.10,379.61 L368.73,379.51 L369.36,379.44 L369.99,379.38 L370.62,379.35 L371.25,379.33 L371.88,379.34 L372.52,379.37 L373.15,379.41 L373.78,379.47 L374.41,379.56 L375.04,379.66 L375.67,379.78 L376.30,379.92 L376.93,380.08 L377.56,380.26 L378.19,380.47 L378.82,380.69 L379.45,380.94 L380.08,381.21 L380.71,381.50 L381.34,381.82 L381.97,382.17 L382.60,382.54 L383.23,382.94 L383.86,383.37 L384.49,383.84 L385.13,384.33 L385.76,384.86 L386.39,385.43 L387.02,386.04 L387.65,386.68 L388.28,387.37 L388.91,388.10 L389.54,388.88 L390.17,389.71 L390.80,390.59" fill="none" stroke="#000" stroke-width="2.1" stroke-linejoin="round"/>
<path clip-path="url(#cd)" d="M391.22,390.60 L392.91,387.95 L394.48,385.29 L395.95,382.64 L397.30,379.98 L398.56,377.33 L399.73,374.67 L400.81,372.02 L401.80,369.37 L402.72,366.71 L403.56,364.06 L404.34,361.40 L405.05,358.75 L405.70,356.09 L406.31,353.44 L406.86,350.79 L407.36,348.13 L407.82,345.48 L408.25,342.82 L408.64,340.17 L409.00,337.52 L409.33,334.86 L409.63,332.21 L409.91,329.55 L410.18,326.90 L410.42,324.24 L410.65,321.59 L410.87,318.94 L411.08,316.28 L411.27,313.63 L411.46,310.97 L411.65,308.32 L411.83,305.66 L412.00,303.01 L412.17,300.36 L412.35,297.70 L412.52,295.05 L412.69,292.39 L412.86,289.74 L413.03,287.08 L413.19,284.43 L413.36,281.78 L413.53,279.12 L413.70,276.47 L413.86,273.81 L414.02,271.16 L414.18,268.51 L414.33,265.85 L414.48,263.20 L414.61,260.54 L414.74,257.89 L414.86,255.23 L414.96,252.58 L415.04,249.93 L415.11,247.27 L415.15,244.62 L415.17,241.96 L415.17,239.31 L415.13,236.65 L415.06,234.00" fill="none" stroke="#000" stroke-width="2.1" stroke-linejoin="round"/>
<path clip-path="url(#cd)" d="M423.47,234.00 L423.47,236.65 L423.50,239.29 L423.55,241.94 L423.62,244.59 L423.71,247.24 L423.81,249.88 L423.93,252.53 L424.06,255.18 L424.19,257.83 L424.34,260.47 L424.49,263.12 L424.64,265.77 L424.80,268.42 L424.95,271.06 L425.11,273.71 L425.27,276.36 L425.43,279.01 L425.59,281.65 L425.74,284.30 L425.90,286.95 L426.05,289.60 L426.21,292.24 L426.37,294.89 L426.52,297.54 L426.68,300.19 L426.85,302.83 L427.01,305.48 L427.19,308.13 L427.37,310.78 L427.57,313.42 L427.77,316.07 L428.00,318.72 L428.24,321.37 L428.50,324.01 L428.78,326.66 L429.09,329.31 L429.43,331.96 L429.80,334.60 L430.21,337.25 L430.66,339.90 L431.16,342.55 L431.71,345.19 L432.30,347.84 L432.96,350.49 L433.68,353.14 L434.47,355.78 L435.34,358.43 L436.28,361.08 L437.30,363.73 L438.42,366.37 L439.63,369.02 L440.95,371.67 L442.37,374.32 L443.91,376.96 L445.58,379.61 L447.37,382.26 L449.30,384.91 L451.37,387.55 L453.59,390.20" fill="none" stroke="#000" stroke-width="2.1" stroke-linejoin="round"/>
<path clip-path="url(#cd)" d="M453.80,390.16 L454.47,389.29 L455.13,388.47 L455.80,387.70 L456.46,386.99 L457.13,386.33 L457.80,385.71 L458.46,385.13 L459.13,384.60 L459.79,384.11 L460.46,383.66 L461.13,383.24 L461.79,382.85 L462.46,382.50 L463.13,382.18 L463.79,381.89 L464.46,381.63 L465.12,381.39 L465.79,381.18 L466.46,380.99 L467.12,380.83 L467.79,380.69 L468.45,380.57 L469.12,380.47 L469.79,380.39 L470.45,380.33 L471.12,380.29 L471.78,380.26 L472.45,380.25 L473.12,380.26 L473.78,380.29 L474.45,380.33 L475.12,380.39 L475.78,380.47 L476.45,380.56 L477.11,380.67 L477.78,380.79 L478.45,380.94 L479.11,381.10 L479.78,381.28 L480.44,381.48 L481.11,381.69 L481.78,381.93 L482.44,382.19 L483.11,382.47 L483.77,382.78 L484.44,383.10 L485.11,383.46 L485.77,383.84 L486.44,384.25 L487.11,384.68 L487.77,385.15 L488.44,385.65 L489.10,386.19 L489.77,386.76 L490.44,387.37 L491.10,388.02 L491.77,388.71 L492.43,389.44 L493.10,390.22" fill="none" stroke="#000" stroke-width="2.1" stroke-linejoin="round"/>
<path clip-path="url(#cd)" d="M492.86,390.20 L494.34,387.55 L495.78,384.91 L497.18,382.26 L498.54,379.61 L499.87,376.96 L501.15,374.32 L502.41,371.67 L503.62,369.02 L504.80,366.37 L505.95,363.73 L507.06,361.08 L508.15,358.43 L509.20,355.78 L510.22,353.14 L511.20,350.49 L512.16,347.84 L513.10,345.19 L514.00,342.55 L514.87,339.90 L515.72,337.25 L516.55,334.60 L517.35,331.96 L518.12,329.31 L518.87,326.66 L519.60,324.01 L520.31,321.37 L521.00,318.72 L521.66,316.07 L522.31,313.42 L522.94,310.78 L523.54,308.13 L524.14,305.48 L524.71,302.83 L525.27,300.19 L525.82,297.54 L526.35,294.89 L526.86,292.24 L527.37,289.60 L527.86,286.95 L528.34,284.30 L528.81,281.65 L529.27,279.01 L529.72,276.36 L530.16,273.71 L530.59,271.06 L531.02,268.42 L531.44,265.77 L531.86,263.12 L532.27,260.47 L532.68,257.83 L533.09,255.18 L533.49,252.53 L533.89,249.88 L534.29,247.24 L534.69,244.59 L535.10,241.94 L535.50,239.29 L535.90,236.65 L536.31,234.00" fill="none" stroke="#000" stroke-width="2.1" stroke-linejoin="round"/>
<line x1="451.00" y1="261.40" x2="475.00" y2="261.40" stroke="#000" stroke-width="2.0" />
<text x="477.40" y="264.60" font-size="9.8" text-anchor="start" font-family="'Liberation Sans', Arial, sans-serif" fill="#1a1a1a" stroke="#1a1a1a" stroke-width="0.25">AR</text>
<text x="434.4" y="427.9" font-size="12.4" text-anchor="middle" font-family="'Liberation Serif', 'Times New Roman', serif" fill="#1a1a1a" stroke="#1a1a1a" stroke-width="0.3" textLength="85" lengthAdjust="spacingAndGlyphs">Frequency(GHz)</text>
<text transform="translate(309.6,313.7) rotate(-90)" x="0" y="0" font-size="12.2" text-anchor="middle" font-family="'Liberation Serif', 'Times New Roman', serif" fill="#1a1a1a" stroke="#1a1a1a" stroke-width="0.3" textLength="75" lengthAdjust="spacingAndGlyphs">Axial ratio(dB)</text>
<text x="419.3" y="447.6" font-size="12.8" text-anchor="middle" font-family="'Liberation Serif', 'Times New Roman', serif" fill="#1a1a1a" stroke="#1a1a1a" stroke-width="0.45">(d)</text>
</svg>
</body></html>
